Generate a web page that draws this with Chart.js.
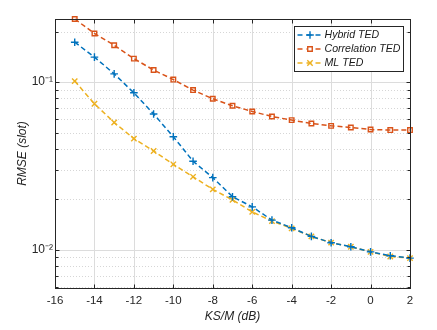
<!DOCTYPE html>
<html><head><meta charset="utf-8">
<script src="https://cdn.jsdelivr.net/npm/chart.js@4/dist/chart.umd.min.js"></script>
<style>html,body{margin:0;padding:0;background:#fff}#c{display:block}</style>
</head><body>
<canvas id="c" width="437" height="330"></canvas>
<script>
const ksm = [-15,-14,-13,-12,-11,-10,-9,-8,-7,-6,-5,-4,-3,-2,-1,0,1,2];
const hybridTED = [0.173,0.141,0.112,0.0863,0.0645,0.0472,0.0337,0.0269,0.0207,0.0180,0.0150,0.0135,0.0120,0.0110,0.0104,0.0097,0.0092,0.0089];
const correlationTED = [0.238,0.195,0.166,0.138,0.118,0.1035,0.0896,0.0795,0.0722,0.0668,0.0623,0.0593,0.0566,0.0548,0.0536,0.0521,0.0517,0.0517];
const mlTED = [0.1014,0.0742,0.0574,0.046,0.0388,0.0323,0.0272,0.0229,0.0198,0.0168,0.0148,0.0134,0.0120,0.0110,0.0104,0.0097,0.0091,0.0089];
const seriesNames = ['Hybrid TED','Correlation TED','ML TED'];
const xTicks = [-16,-14,-12,-10,-8,-6,-4,-2,0,2];
const yMajor = [0.01,0.1];
const yMinor = [0.006,0.007,0.008,0.009,0.02,0.03,0.04,0.05,0.06,0.07,0.08,0.09,0.2];
const yLabels = {0.01:'10⁻²',0.1:'10⁻¹'};

const colors = ['#0072BD','#D95319','#EDB120'];
const styles = ['cross','rect','crossRot'];
const FONT = '"Liberation Sans", Arial, sans-serif';

function mk(i, vals){
  return {
    label: seriesNames[i],
    data: ksm.map((x,k)=>({x:x,y:vals[k]})),
    borderColor: colors[i],
    backgroundColor: i===1 ? 'rgba(255,255,255,0)' : colors[i],
    borderWidth: 1.5,
    borderDash: [5,3],
    pointStyle: styles[i],
    pointRadius: i===1 ? 3.2 : 3.8,
    pointBorderWidth: 1.4,
    pointBorderColor: colors[i],
    pointBackgroundColor: 'rgba(255,255,255,0)',
    tension: 0,
    clip: false
  };
}

const framePlugin = {
  id: 'frame',
  beforeDatasetsDraw(chart){
    const {ctx, chartArea:a, scales:{x,y}} = chart;
    ctx.save();
    ctx.lineWidth = 1;
    ctx.strokeStyle = '#d6d6d6';
    ctx.setLineDash([1,2]);
    yMinor.forEach(v=>{
      const py = Math.round(y.getPixelForValue(v))+0.5;
      ctx.beginPath(); ctx.moveTo(a.left,py); ctx.lineTo(a.right,py); ctx.stroke();
    });
    ctx.setLineDash([]);
    ctx.strokeStyle = '#dcdcdc';
    yMajor.forEach(v=>{
      const py = Math.round(y.getPixelForValue(v))+0.5;
      ctx.beginPath(); ctx.moveTo(a.left,py); ctx.lineTo(a.right,py); ctx.stroke();
    });
    xTicks.forEach(v=>{
      const px = Math.round(x.getPixelForValue(v))+0.5;
      ctx.beginPath(); ctx.moveTo(px,a.top); ctx.lineTo(px,a.bottom); ctx.stroke();
    });
    ctx.restore();
  },
  afterDraw(chart){
    const {ctx, chartArea:a, scales:{x,y}} = chart;
    ctx.save();
    ctx.strokeStyle = '#262626';
    ctx.lineWidth = 1;
    const L = Math.round(a.left)+0.5, R = Math.round(a.right)+0.5, T = Math.round(a.top)+0.5, B = Math.round(a.bottom)+0.5;
    ctx.strokeRect(L,T,R-L,B-T);
    const tl = 4;
    xTicks.forEach(v=>{
      const px = Math.round(x.getPixelForValue(v))+0.5;
      ctx.beginPath(); ctx.moveTo(px,B); ctx.lineTo(px,B-tl); ctx.moveTo(px,T); ctx.lineTo(px,T+tl); ctx.stroke();
    });
    yMajor.concat(yMinor).forEach(v=>{
      const py = Math.round(y.getPixelForValue(v))+0.5;
      const l = yMajor.includes(v) ? tl : 3;
      ctx.beginPath(); ctx.moveTo(L,py); ctx.lineTo(L+l,py); ctx.moveTo(R,py); ctx.lineTo(R-l,py); ctx.stroke();
    });
    // legend
    const bx = 294.5, by = 26.5, bw = 109, bh = 45;
    ctx.fillStyle = '#fff';
    ctx.fillRect(bx,by,bw,bh);
    ctx.strokeStyle = '#262626';
    ctx.strokeRect(bx,by,bw,bh);
    chart.data.datasets.forEach((ds,i)=>{
      const cy = by + 8.5 + i*14;
      ctx.strokeStyle = ds.borderColor;
      ctx.lineWidth = 1.5;
      ctx.setLineDash([5,4]);
      ctx.beginPath(); ctx.moveTo(bx+3,cy); ctx.lineTo(bx+28,cy); ctx.stroke();
      ctx.setLineDash([]);
      ctx.lineWidth = 1.4;
      ctx.fillStyle = '#fff';
      Chart.helpers.drawPoint(ctx,{pointStyle:ds.pointStyle,radius:ds.pointRadius,rotation:0,borderWidth:1.4},bx+15.5,cy);
      ctx.fillStyle = '#1a1a1a';
      ctx.font = 'italic 10.6px ' + FONT;
      ctx.textBaseline = 'middle';
      ctx.textAlign = 'left';
      ctx.fillText(ds.label, bx+30, cy+0.5);
    });
    ctx.restore();
  }
};

new Chart(document.getElementById('c'), {
  type: 'line',
  data: { datasets: [mk(0,hybridTED), mk(1,correlationTED), mk(2,mlTED)] },
  options: {
    responsive: false,
    animation: false,
    devicePixelRatio: 1,
    layout: { padding: { top: 19, right: 27, left: 0, bottom: 6 } },
    plugins: { legend: { display: false }, tooltip: { enabled: false } },
    scales: {
      x: {
        type: 'linear', min: -16, max: 2,
        grid: { display: false, drawTicks: false }, border: { display: false },
        afterBuildTicks(s){ s.ticks = xTicks.map(v=>({value:v})); },
        afterFit(s){ s.height = 36; },
        ticks: { color: '#262626', font: { family: FONT, size: 11.5 }, padding: 6, maxRotation: 0, autoSkip: false },
        title: { display: true, text: 'KS/M (dB)', color: '#262626', font: { family: FONT, size: 12, style: 'italic' }, padding: { top: 0, bottom: 0 } }
      },
      y: {
        type: 'logarithmic', min: 0.0059, max: 0.238,
        grid: { display: false, drawTicks: false }, border: { display: false },
        afterBuildTicks(s){ s.ticks = yMajor.map(v=>({value:v, major:true})); },
        afterFit(s){ s.width = 55; },
        ticks: { color: '#262626', font: { family: FONT, size: 12 }, padding: 2, autoSkip: false,
          callback(v){ return yLabels[v] || ''; } },
        title: { display: true, text: 'RMSE (slot)', color: '#262626', font: { family: FONT, size: 12, style: 'italic' }, padding: { top: 15, bottom: 0 } }
      }
    }
  },
  plugins: [framePlugin]
});
</script>
</body></html>
